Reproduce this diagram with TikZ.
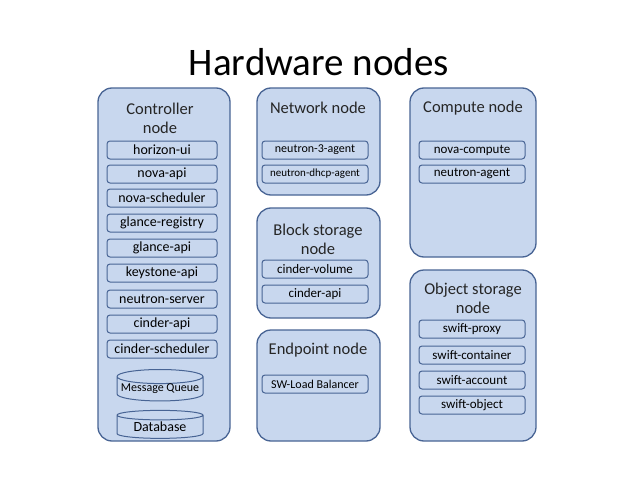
\documentclass[tikz,border=0pt]{standalone}
\usepackage{fontspec}
\setmainfont{Carlito}
\usetikzlibrary{shapes.geometric}
\definecolor{boxfill}{RGB}{200,215,238}
\definecolor{boxline}{RGB}{72,100,148}
\tikzset{
  group/.style={draw=boxline, fill=boxfill, line width=1.3pt, rounded corners=14pt},
  gtitle/.style={font=\fontsize{16.5}{19}\selectfont, align=center, text=black!85},
  item/.style={draw=boxline, fill=boxfill, line width=1pt, rounded corners=3pt,
    minimum width=110pt, minimum height=18pt, inner sep=0pt, font=\fontsize{14}{15}\selectfont},
  sitem/.style={item, minimum width=106pt, font=\fontsize{12}{13}\selectfont},
  db/.style={cylinder, shape border rotate=90, aspect=0.18, draw=boxline, fill=boxfill,
    line width=1pt, minimum width=86pt, minimum height=28pt, inner sep=0pt}
}
\begin{document}
\begin{tikzpicture}[x=1pt,y=-1pt]
\useasboundingbox (0,0) rectangle (638,479);
\node (title) at (319,62) {\fontsize{39}{41}\selectfont Hardware nodes};
% groups
\draw[group] (98,88) rectangle (230,441);
\draw[group] (257,88) rectangle (380,195);
\draw[group] (410,88) rectangle (536,257);
\draw[group] (257,208) rectangle (380,318);
\draw[group] (257,330) rectangle (380,441);
\draw[group] (410,270) rectangle (536,441);
% titles
\node[gtitle] (tc) at (160,118) {Controller\\node};
\node[gtitle] (tn) at (318,108) {Network node};
\node[gtitle] (tm) at (473,108) {Compute node};
\node[gtitle] (tb) at (318,239) {Block storage\\node};
\node[gtitle] (te) at (318,350) {Endpoint node};
\node[gtitle] (to) at (473,298) {Object storage\\node};
% controller items
\node[item] (c1) at (162,150) {horizon-ui};
\node[item] (c2) at (162,174) {nova-api};
\node[item] (c3) at (162,198) {nova-scheduler};
\node[item] (c4) at (162,223) {glance-registry};
\node[item] (c5) at (162,248) {glance-api};
\node[item] (c6) at (162,273) {keystone-api};
\node[item] (c7) at (162,299) {neutron-server};
\node[item] (c8) at (162,324) {cinder-api};
\node[item] (c9) at (162,349) {cinder-scheduler};
\node[db, font=\fontsize{12}{13}\selectfont] (mq) at (160,389) {Message Queue};
\node[db, font=\fontsize{14}{15}\selectfont] (dbase) at (160,427) {Database};
% network
\node[sitem] (n1) at (315,150) {neutron-3-agent};
\node[sitem, font=\fontsize{11}{12}\selectfont] (n2) at (315,174) {neutron-dhcp-agent};
% compute
\node[sitem, font=\fontsize{13}{14}\selectfont] (m1) at (472,150) {nova-compute};
\node[sitem, font=\fontsize{13}{14}\selectfont] (m2) at (472,174) {neutron-agent};
% block
\node[sitem, font=\fontsize{13}{14}\selectfont] (b1) at (315,269) {cinder-volume};
\node[sitem, font=\fontsize{13}{14}\selectfont] (b2) at (315,294) {cinder-api};
% endpoint
\node[sitem] (e1) at (315,384) {SW-Load Balancer};
% object
\node[sitem, font=\fontsize{13}{14}\selectfont] (o1) at (472,329) {swift-proxy};
\node[sitem, font=\fontsize{13}{14}\selectfont] (o2) at (472,355) {swift-container};
\node[sitem, font=\fontsize{13}{14}\selectfont] (o3) at (472,380) {swift-account};
\node[sitem, font=\fontsize{13}{14}\selectfont] (o4) at (472,405) {swift-object};
\end{tikzpicture}
\end{document}
